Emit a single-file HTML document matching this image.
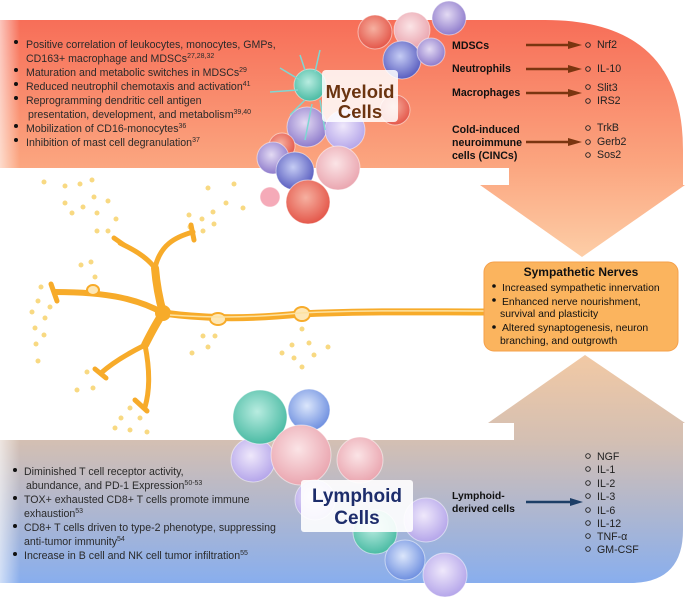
<!DOCTYPE html>
<html><head><meta charset="utf-8"><style>
html,body{margin:0;padding:0;background:#fff;}
svg{display:block;font-family:"Liberation Sans",sans-serif;}
</style></head><body>
<svg width="685" height="601" viewBox="0 0 685 601" xmlns="http://www.w3.org/2000/svg">
<defs>
<linearGradient id="gTop" gradientUnits="userSpaceOnUse" x1="0" y1="20" x2="0" y2="260">
<stop offset="0" stop-color="#f76e58"/><stop offset="0.6" stop-color="#fba57f"/><stop offset="1" stop-color="#fdcfa8"/></linearGradient>
<linearGradient id="gBot" gradientUnits="userSpaceOnUse" x1="0" y1="355" x2="0" y2="584">
<stop offset="0" stop-color="#f2c9a4"/><stop offset="0.38" stop-color="#d3bfb3"/><stop offset="1" stop-color="#88aeee"/></linearGradient>
<linearGradient id="fadeL" x1="0" y1="0" x2="1" y2="0"><stop offset="0" stop-color="#fff" stop-opacity="0.6"/><stop offset="1" stop-color="#fff" stop-opacity="0"/></linearGradient>
<radialGradient id="cR" cx="0.45" cy="0.4" r="0.6"><stop offset="0" stop-color="#f6b0a0"/><stop offset="1" stop-color="#e4574a"/></radialGradient>
<radialGradient id="cP" cx="0.45" cy="0.4" r="0.6"><stop offset="0" stop-color="#e3daf3"/><stop offset="1" stop-color="#8f7ccc"/></radialGradient>
<radialGradient id="cB" cx="0.45" cy="0.4" r="0.6"><stop offset="0" stop-color="#c5ccf4"/><stop offset="1" stop-color="#5a5ec0"/></radialGradient>
<radialGradient id="cK" cx="0.45" cy="0.4" r="0.6"><stop offset="0" stop-color="#fbe4e6"/><stop offset="1" stop-color="#eaa6b0"/></radialGradient>
<radialGradient id="cT" cx="0.45" cy="0.4" r="0.6"><stop offset="0" stop-color="#b8ece0"/><stop offset="1" stop-color="#4bbba4"/></radialGradient>
<radialGradient id="cL" cx="0.45" cy="0.4" r="0.6"><stop offset="0" stop-color="#dbe6fb"/><stop offset="1" stop-color="#6f90e0"/></radialGradient>
<radialGradient id="cV" cx="0.45" cy="0.4" r="0.6"><stop offset="0" stop-color="#efe8fb"/><stop offset="1" stop-color="#b5a6ea"/></radialGradient>
</defs>

<path d="M0 20 H545 Q683 20 683 150 V185 L685 185 L582 257 L480 185 H509 V168 H0 Z" fill="url(#gTop)"/>
<rect x="0" y="20" width="20" height="148" fill="url(#fadeL)"/>
<path d="M0 440 H514 V423 H488 L585 355 L685 423 H683 V530 Q683 583 630 583 H0 Z" fill="url(#gBot)"/>
<rect x="0" y="440" width="20" height="143" fill="url(#fadeL)"/>

<g fill="#f8d982">
<circle cx="44" cy="182" r="2.5"/><circle cx="65" cy="186" r="2.5"/><circle cx="80" cy="184" r="2.5"/><circle cx="92" cy="180" r="2.5"/>
<circle cx="65" cy="203" r="2.5"/><circle cx="83" cy="207" r="2.5"/><circle cx="94" cy="197" r="2.5"/><circle cx="108" cy="201" r="2.5"/>
<circle cx="72" cy="213" r="2.5"/><circle cx="97" cy="213" r="2.5"/><circle cx="116" cy="219" r="2.5"/><circle cx="97" cy="231" r="2.5"/><circle cx="108" cy="231" r="2.5"/>
<circle cx="208" cy="188" r="2.5"/><circle cx="234" cy="184" r="2.5"/><circle cx="226" cy="203" r="2.5"/><circle cx="213" cy="212" r="2.5"/><circle cx="243" cy="208" r="2.5"/><circle cx="189" cy="215" r="2.5"/><circle cx="202" cy="219" r="2.5"/><circle cx="214" cy="224" r="2.5"/><circle cx="203" cy="231" r="2.5"/><circle cx="190" cy="227" r="2.5"/>
<circle cx="81" cy="265" r="2.5"/><circle cx="91" cy="262" r="2.5"/><circle cx="95" cy="277" r="2.5"/>
<circle cx="41" cy="287" r="2.5"/><circle cx="38" cy="301" r="2.5"/><circle cx="50" cy="307" r="2.5"/><circle cx="32" cy="312" r="2.5"/><circle cx="45" cy="318" r="2.5"/><circle cx="35" cy="328" r="2.5"/><circle cx="44" cy="335" r="2.5"/><circle cx="36" cy="344" r="2.5"/><circle cx="38" cy="361" r="2.5"/>
<circle cx="203" cy="336" r="2.5"/><circle cx="215" cy="336" r="2.5"/><circle cx="192" cy="353" r="2.5"/><circle cx="208" cy="347" r="2.5"/>
<circle cx="302" cy="329" r="2.5"/><circle cx="292" cy="345" r="2.5"/><circle cx="309" cy="343" r="2.5"/><circle cx="328" cy="347" r="2.5"/><circle cx="282" cy="353" r="2.5"/><circle cx="294" cy="358" r="2.5"/><circle cx="314" cy="355" r="2.5"/><circle cx="302" cy="367" r="2.5"/>
<circle cx="87" cy="372" r="2.5"/><circle cx="77" cy="390" r="2.5"/><circle cx="93" cy="388" r="2.5"/>
<circle cx="130" cy="408" r="2.5"/><circle cx="121" cy="418" r="2.5"/><circle cx="140" cy="418" r="2.5"/><circle cx="115" cy="428" r="2.5"/><circle cx="130" cy="430" r="2.5"/><circle cx="147" cy="432" r="2.5"/>
</g>

<g fill="none" stroke="#f7ab2a" stroke-linecap="round" stroke-linejoin="round">
<path d="M163 313 C200 318 240 320 300 314 C360 311 420 312 486 312" stroke-width="7"/>
<path d="M163 313 C140 300 110 292 55 292" stroke-width="6"/>
<path d="M163 313 C158 295 156 280 155 268" stroke-width="8"/>
<path d="M155 268 C145 255 130 248 120 243" stroke-width="5"/>
<path d="M155 268 C160 245 175 237 193 232" stroke-width="5"/>
<path d="M163 313 C155 325 150 335 145 345" stroke-width="8"/>
<path d="M145 345 C125 355 110 365 101 373" stroke-width="5"/>
<path d="M145 345 C150 370 150 390 145 407" stroke-width="5"/>
</g>
<circle cx="163" cy="313" r="8" fill="#f7ab2a"/>
<g stroke="#f7ab2a" stroke-width="5" stroke-linecap="round">
<line x1="51" y1="284" x2="57" y2="301"/><line x1="114" y1="238" x2="124" y2="245"/><line x1="191" y1="225" x2="194" y2="240"/>
<line x1="95" y1="369" x2="106" y2="378"/><line x1="135" y1="400" x2="147" y2="411"/>
</g>
<g fill="#fde7b6" stroke="#f7ab2a" stroke-width="2">
<ellipse cx="93" cy="290" rx="6" ry="5"/><ellipse cx="218" cy="319" rx="8" ry="6"/><ellipse cx="302" cy="314" rx="8" ry="7"/>
</g>
<path d="M170 315 C200 317 240 319 300 313 C360 310 420 311 486 311" stroke="#fde2a0" stroke-width="1.5" fill="none"/>

<g stroke="#fff" stroke-opacity="0.5" stroke-width="1">
<circle cx="375" cy="32" r="17" fill="url(#cR)"/>
<circle cx="412" cy="30" r="18" fill="url(#cK)"/>
<circle cx="449" cy="18" r="17" fill="url(#cP)"/>
<circle cx="402" cy="60" r="19" fill="url(#cB)"/>
<circle cx="431" cy="52" r="14" fill="url(#cP)"/>
<circle cx="395" cy="110" r="15" fill="url(#cR)"/>
<circle cx="307" cy="127" r="20" fill="url(#cP)"/>
<circle cx="345" cy="130" r="20" fill="url(#cV)"/>
<circle cx="282" cy="146" r="13" fill="url(#cR)"/>
<circle cx="273" cy="158" r="16" fill="url(#cP)"/>
<circle cx="295" cy="171" r="19" fill="url(#cB)"/>
<circle cx="338" cy="168" r="22" fill="url(#cK)"/>
<circle cx="308" cy="202" r="22" fill="url(#cR)"/>
<circle cx="270" cy="197" r="10" fill="#f5aab8"/>
<circle cx="310" cy="85" r="16" fill="url(#cT)"/>
</g>
<g stroke="#7fd7d3" stroke-width="1.5" fill="none">
<path d="M300 80 L280 68 M298 90 L270 92 M305 70 L300 55 M315 72 L320 50 M305 100 L290 115 M320 100 L325 130 M312 104 L305 140"/>
</g>
<rect x="322" y="70" width="76" height="52" rx="4" fill="#fff" fill-opacity="0.85"/>
<text x="360" y="98" font-size="18.5" font-weight="bold" fill="#6b3410" text-anchor="middle">Myeloid</text>
<text x="360" y="118" font-size="18.5" font-weight="bold" fill="#6b3410" text-anchor="middle">Cells</text>

<g stroke="#fff" stroke-opacity="0.5" stroke-width="1">
<circle cx="253" cy="460" r="22" fill="url(#cV)"/>
<circle cx="260" cy="417" r="27" fill="url(#cT)"/>
<circle cx="309" cy="410" r="21" fill="url(#cL)"/>
<circle cx="301" cy="455" r="30" fill="url(#cK)"/>
<circle cx="360" cy="460" r="23" fill="url(#cK)"/>
<circle cx="315" cy="500" r="20" fill="url(#cV)"/>
<circle cx="375" cy="532" r="22" fill="url(#cT)"/>
<circle cx="426" cy="520" r="22" fill="url(#cV)"/>
<circle cx="405" cy="560" r="20" fill="url(#cL)"/>
<circle cx="445" cy="575" r="22" fill="url(#cV)"/>
</g>
<rect x="301" y="480" width="112" height="52" rx="3" fill="#fff" fill-opacity="0.9"/>
<text x="357" y="502" font-size="19" font-weight="bold" fill="#1d2d6b" text-anchor="middle">Lymphoid</text>
<text x="357" y="524" font-size="19" font-weight="bold" fill="#1d2d6b" text-anchor="middle">Cells</text>

<g font-size="10.6" fill="#2a2a2a">
<text x="26" y="48">Positive correlation of leukocytes, monocytes, GMPs,</text>
<text x="26" y="62">CD163+ macrophage and MDSCs<tspan font-size="7" dy="-4">27,28,32</tspan></text>
<text x="26" y="76">Maturation and metabolic switches in MDSCs<tspan font-size="7" dy="-4">29</tspan></text>
<text x="26" y="90">Reduced neutrophil chemotaxis and activation<tspan font-size="7" dy="-4">41</tspan></text>
<text x="26" y="104">Reprogramming dendritic cell antigen</text>
<text x="28" y="118">presentation, development, and metabolism<tspan font-size="7" dy="-4">39,40</tspan></text>
<text x="26" y="132">Mobilization of CD16-monocytes<tspan font-size="7" dy="-4">36</tspan></text>
<text x="26" y="146">Inhibition of mast cell degranulation<tspan font-size="7" dy="-4">37</tspan></text>
</g>
<g fill="#111"><circle cx="16" cy="42" r="2"/><circle cx="16" cy="70" r="2"/><circle cx="16" cy="84" r="2"/><circle cx="16" cy="98" r="2"/><circle cx="16" cy="126" r="2"/><circle cx="16" cy="140" r="2"/></g>

<g font-size="10.6" font-weight="bold" fill="#111">
<text x="452" y="49">MDSCs</text><text x="452" y="72">Neutrophils</text><text x="452" y="96">Macrophages</text>
<text x="452" y="133">Cold-induced</text><text x="452" y="146">neuroimmune</text><text x="452" y="159">cells (CINCs)</text>
</g>
<g stroke="#7a3510" stroke-width="2.5"><line x1="526" y1="45" x2="570" y2="45"/><line x1="526" y1="69" x2="570" y2="69"/><line x1="526" y1="93" x2="570" y2="93"/><line x1="526" y1="142" x2="570" y2="142"/></g>
<g fill="#7a3510"><path d="M568 41 L582 45 L568 49Z"/><path d="M568 65 L582 69 L568 73Z"/><path d="M568 89 L582 93 L568 97Z"/><path d="M568 138 L582 142 L568 146Z"/></g>
<g fill="none" stroke="#222" stroke-width="0.9">
<circle cx="588" cy="45" r="2.3"/><circle cx="588" cy="69" r="2.3"/><circle cx="588" cy="87" r="2.3"/><circle cx="588" cy="101" r="2.3"/>
<circle cx="588" cy="128" r="2.3"/><circle cx="588" cy="142" r="2.3"/><circle cx="588" cy="155" r="2.3"/>
</g>
<g font-size="10.6" fill="#222">
<text x="597" y="48">Nrf2</text><text x="597" y="72">IL-10</text><text x="597" y="91">Slit3</text><text x="597" y="104">IRS2</text>
<text x="597" y="131">TrkB</text><text x="597" y="145">Gerb2</text><text x="597" y="158">Sos2</text>
</g>

<rect x="484" y="262" width="194" height="89" rx="10" fill="#fbb45e" stroke="#f5a04a" stroke-width="1"/>
<text x="581" y="276" font-size="12" font-weight="bold" fill="#111" text-anchor="middle">Sympathetic Nerves</text>
<g font-size="10.4" fill="#111">
<text x="502" y="291">Increased sympathetic innervation</text>
<text x="502" y="305">Enhanced nerve nourishment,</text>
<text x="500" y="317">survival and plasticity</text>
<text x="502" y="331">Altered synaptogenesis, neuron</text>
<text x="500" y="344">branching, and outgrowth</text>
</g>
<g fill="#111"><circle cx="494" cy="286" r="1.8"/><circle cx="494" cy="300" r="1.8"/><circle cx="494" cy="327" r="1.8"/></g>

<g font-size="10.6" fill="#2a2a2a">
<text x="24" y="475">Diminished T cell receptor activity,</text>
<text x="26" y="489">abundance, and PD-1 Expression<tspan font-size="7" dy="-4">50-53</tspan></text>
<text x="24" y="503">TOX+ exhausted CD8+ T cells promote immune</text>
<text x="24" y="517">exhaustion<tspan font-size="7" dy="-4">53</tspan></text>
<text x="24" y="531">CD8+ T cells driven to type-2 phenotype, suppressing</text>
<text x="24" y="545">anti-tumor immunity<tspan font-size="7" dy="-4">54</tspan></text>
<text x="24" y="559">Increase in B cell and NK cell tumor infiltration<tspan font-size="7" dy="-4">55</tspan></text>
</g>
<g fill="#111"><circle cx="15" cy="470" r="2"/><circle cx="15" cy="498" r="2"/><circle cx="15" cy="526" r="2"/><circle cx="15" cy="554" r="2"/></g>

<text x="452" y="499" font-size="10.4" font-weight="bold" fill="#111">Lymphoid-</text>
<text x="452" y="512" font-size="10.4" font-weight="bold" fill="#111">derived cells</text>
<line x1="526" y1="502" x2="572" y2="502" stroke="#1d3e66" stroke-width="2.5"/>
<path d="M570 498 L583 502 L570 506Z" fill="#1d3e66"/>
<g fill="none" stroke="#222" stroke-width="0.9">
<circle cx="588" cy="456" r="2.3"/><circle cx="588" cy="469" r="2.3"/><circle cx="588" cy="483" r="2.3"/><circle cx="588" cy="496" r="2.3"/>
<circle cx="588" cy="510" r="2.3"/><circle cx="588" cy="523" r="2.3"/><circle cx="588" cy="536" r="2.3"/><circle cx="588" cy="549" r="2.3"/>
</g>
<g font-size="10.6" fill="#222">
<text x="597" y="460">NGF</text><text x="597" y="473">IL-1</text><text x="597" y="487">IL-2</text><text x="597" y="500">IL-3</text>
<text x="597" y="514">IL-6</text><text x="597" y="527">IL-12</text><text x="597" y="540">TNF-α</text><text x="597" y="553">GM-CSF</text>
</g>
</svg>
</body></html>
